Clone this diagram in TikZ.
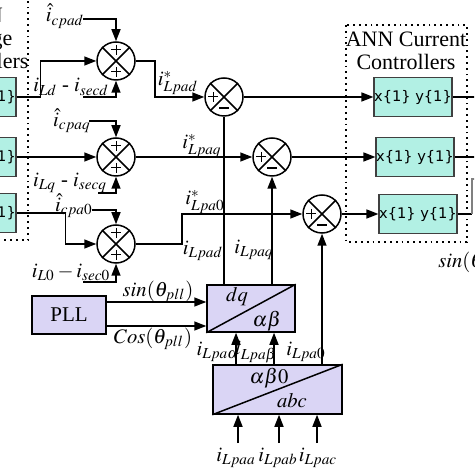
\documentclass[tikz,border=0pt]{standalone}
\usepackage{mathptmx}
\usepackage{fontspec}
\setmainfont{Liberation Serif}
\newfontfamily\annfont{DejaVu Sans}
\usetikzlibrary{arrows.meta}
\definecolor{annfill}{RGB}{178,240,228}
\definecolor{lav}{RGB}{218,213,245}
\tikzset{
 conn/.style={line width=0.75pt},
 arr/.style={conn,-{Triangle[length=6pt,width=4.5pt]}},
 sumc/.style={circle,draw,line width=0.75pt,minimum size=19pt,inner sep=0pt},
 annbox/.style={draw=black!75,fill=annfill,line width=0.75pt,minimum width=32pt,minimum height=19.5pt,inner sep=0pt,font=\annfont\fontsize{7.3}{8}\selectfont},
 lavbox/.style={draw,fill=lav,line width=0.75pt,inner sep=0pt},
 dotbox/.style={draw,dotted,line width=0.9pt},
 lbl/.style={inner sep=0pt,font=\fontsize{10.3}{11.5}\selectfont},
 ttl/.style={inner sep=0pt,align=center,font=\fontsize{11}{11.5}\selectfont}
}
\newcommand{\xsum}[1]{\draw[conn] (#1.45)--(#1.225) (#1.135)--(#1.315);}
\newcommand{\plusat}[3]{\draw[line width=0.5pt] (#1.center)++(#2-5,#3)--++(10,0) (#1.center)++(#2,#3-5)--++(0,10);}
\newcommand{\minusat}[3]{\draw[line width=0.9pt] (#1.center)++(#2-5,#3)--++(10,0);}
\begin{document}
\begin{tikzpicture}[x=0.5pt,y=-0.5pt]
\clip (0,0) rectangle (474,474);
% dotted groups
\draw[dotbox] (-140,-10) rectangle (28,240);
\draw[dotbox] (346,25) rectangle (467,242);
\node[ttl] (vtitle) at (-21,38) {ANN\\Voltage\\Controllers};
\node[ttl] (ctitle) at (406,51) {ANN Current\\Controllers};
% ANN boxes
\node[annbox] (v1) at (-23,97) {x\{1\} y\{1\}};
\node[annbox] (v2) at (-23,157) {x\{1\} y\{1\}};
\node[annbox] (v3) at (-23,213) {x\{1\} y\{1\}};
\node[annbox] (a1) at (413,97) {x\{1\} y\{1\}};
\node[annbox] (a2) at (415,157) {x\{1\} y\{1\}};
\node[annbox] (a3) at (418,214) {x\{1\} y\{1\}};
% summers
\node[sumc] (s1) at (116,61) {};
\node[sumc] (s2) at (116,157) {};
\node[sumc] (s3) at (116,244) {};
\node[sumc] (c1) at (224,97) {};
\node[sumc] (c2) at (272,157) {};
\node[sumc] (c3) at (322,214) {};
\xsum{s1}\xsum{s2}\xsum{s3}\xsum{c1}\xsum{c2}\xsum{c3}
\plusat{s1}{0}{-11}\plusat{s1}{0}{11}
\plusat{s2}{0}{-11}\plusat{s2}{0}{11}
\plusat{s3}{0}{-11}\plusat{s3}{0}{11}
\plusat{c1}{-11}{0}\minusat{c1}{0}{11}
\plusat{c2}{-11}{0}\minusat{c2}{0}{11}
\plusat{c3}{-11}{0}\minusat{c3}{0}{11}
% transform blocks
\node[lavbox,minimum width=44pt,minimum height=23.5pt] (dq) at (251,308.5) {};
\draw[conn] (dq.south west) -- (dq.north east);
\node[lbl] (dqt) at (237,297) {$dq$};
\node[lbl] (abt) at (267,321) {$\alpha\beta$};
\node[lavbox,minimum width=64.5pt,minimum height=24.5pt] (ab0) at (277.5,389.5) {};
\draw[conn] (ab0.south west) -- (ab0.north east);
\node[lbl] (ab0t) at (269,378) {$\alpha\beta0$};
\node[lbl] (abct) at (292,401) {$abc$};
\node[lavbox,minimum width=37pt,minimum height=19pt,font=\fontsize{10.5}{12}\selectfont] (pll) at (69,315) {PLL};
% coordinates for free ends
\coordinate (t1) at (83,19);
\coordinate (t2) at (89,121);
\coordinate (t3) at (92,210);
\coordinate (b1) at (83,97);
\coordinate (b2) at (98,193);
\coordinate (b3) at (83,282);
\coordinate (ys) at (0,302);
\coordinate (yc) at (0,326);
\coordinate (ma) at (236,0);
\coordinate (mb) at (274,0);
\coordinate (ia) at (238,443);
\coordinate (ib) at (279,443);
\coordinate (ic) at (317,443);
\coordinate (o1) at (480,140);
\coordinate (o2) at (480,157);
\coordinate (o3) at (472,214);
\coordinate (g1) at (472,179);
\coordinate (g2) at (480,179);
% connectors
\draw[arr] (v1.east) -- ++(24,0) |- (s1.west);
\draw[arr] (v2.east) -- (s2.west);
\draw[arr] (v3.east) -- ++(49,0) |- (s3.west);
\draw[arr] (t1) -| (s1.north);
\draw[arr] (t2) -| (s2.north);
\draw[arr] (t3) -| (s3.north);
\draw[arr] (b1) -| (s1.south);
\draw[arr] (b2) -| (s2.south);
\draw[arr] (b3) -| (s3.south);
\draw[arr] (s1.east) -- ++(19,0) |- (c1.west);
\draw[arr] (s2.east) -- (c2.west);
\draw[arr] (s3.east) -- ++(46,0) |- (c3.west);
\draw[arr] (c1.east) -- (a1.west);
\draw[arr] (c2.east) -- (a2.west);
\draw[arr] (c3.east) -- (a3.west);
\draw[conn] (dq.north -| c1) -- (c1.south);
\draw[arr] (dq.north -| c2) -- (c2.south);
\draw[arr] (ab0.north -| c3) -- (c3.south);
\draw[arr] (pll.east |- ys) -- (dq.west |- ys);
\draw[arr] (pll.east |- yc) -- (dq.west |- yc);
\draw[arr] (ma |- ab0.north) -- (ma |- dq.south);
\draw[arr] (mb |- ab0.north) -- (mb |- dq.south);
\draw[arr] (ia) -- (ia |- ab0.south);
\draw[arr] (ib) -- (ib |- ab0.south);
\draw[arr] (ic) -- (ic |- ab0.south);
\draw[conn] (a1.east) -- ++(24,0) |- (o1);
\draw[conn] (a2.east) -- (o2);
\draw[conn] (a3.east) -- (o3);
\draw[conn,gray] (o3) -- (g1) -- (g2);
% labels
\node[lbl] (lh1) at (65,16) {$\hat{i}_{cpad}$};
\node[lbl] (ld1) at (71,87) {$i_{Ld}$ - $i_{secd}$};
\node[lbl] (lh2) at (72,121) {$\hat{i}_{cpaq}$};
\node[lbl] (ld2) at (70,183) {$i_{Lq}$ - $i_{secq}$};
\node[lbl] (lh3) at (74,206) {$\hat{i}_{cpa0}$};
\node[lbl] (ld3) at (71,272) {$i_{L0}-i_{sec0}$};
\node[lbl] (lr1) at (178,83) {$i^*_{Lpad}$};
\node[lbl] (lr2) at (202,146) {$i^*_{Lpaq}$};
\node[lbl] (lr3) at (205,202) {$i^*_{Lpa0}$};
\node[lbl] (lf1) at (203,251) {$i_{Lpad}$};
\node[lbl] (lf2) at (254,250) {$i_{Lpaq}$};
\node[lbl] (lsin) at (158,292) {$sin(\theta_{pll})$};
\node[lbl] (lcos) at (153,339) {$Cos(\theta_{pll})$};
\node[lbl] (lal) at (218,352) {$i_{Lpa\alpha}$};
\node[lbl] (lbe) at (256,352) {$i_{Lpa\beta}$};
\node[lbl] (lze) at (306,352) {$i_{Lpa0}$};
\node[lbl] (lia) at (236,458) {$i_{Lpaa}$};
\node[lbl] (lib) at (278,458) {$i_{Lpab}$};
\node[lbl] (lic) at (318,458) {$i_{Lpac}$};
\node[lbl,anchor=west] (lsr) at (438,262) {$sin(\theta$};
\end{tikzpicture}
\end{document}
